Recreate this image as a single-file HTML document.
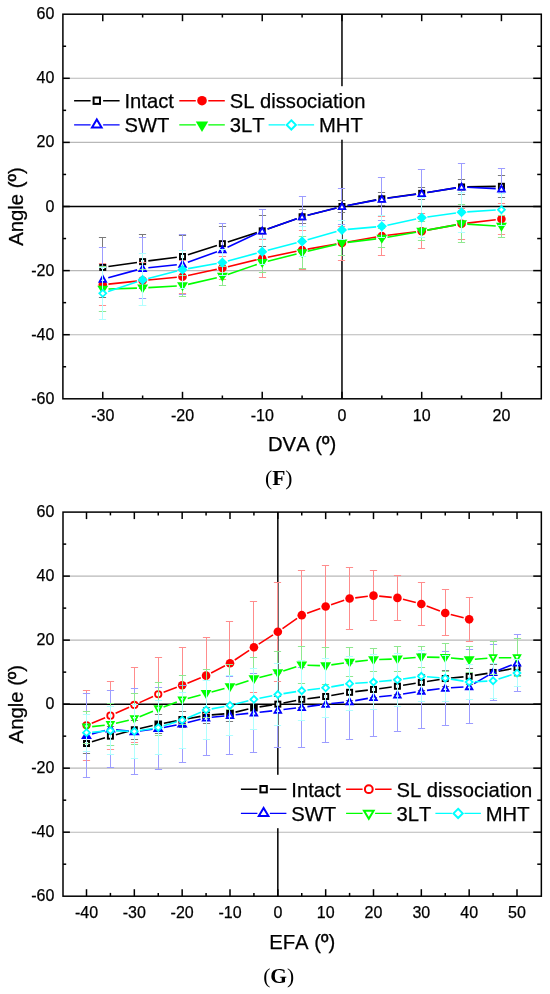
<!DOCTYPE html>
<html><head><meta charset="utf-8"><title>Angle vs DVA / EFA</title>
<style>html,body{margin:0;padding:0;background:#fff;width:550px;height:994px;overflow:hidden}svg{display:block}text{font-kerning:none;stroke:#000;stroke-width:0.25px}tspan.o{stroke-width:0.5px}text.cap{stroke-width:0}</style>
</head><body><svg width="550" height="994" viewBox="0 0 550 994"><line x1="62.9" y1="334.7" x2="541.3" y2="334.7" stroke="#b8b8b8" stroke-width="1.1"/><line x1="62.9" y1="270.6" x2="541.3" y2="270.6" stroke="#b8b8b8" stroke-width="1.1"/><line x1="62.9" y1="142.4" x2="541.3" y2="142.4" stroke="#b8b8b8" stroke-width="1.1"/><line x1="62.9" y1="78.3" x2="541.3" y2="78.3" stroke="#b8b8b8" stroke-width="1.1"/><line x1="62.9" y1="206.5" x2="541.3" y2="206.5" stroke="#000" stroke-width="1.5"/><line x1="341.97" y1="14.2" x2="341.97" y2="398.8" stroke="#000" stroke-width="1.5"/><path d="M102.5 237.5V297.5M98.9 237.5H106.1M98.9 297.5H106.1M142.5 234.5V288.5M138.9 234.5H146.1M138.9 288.5H146.1M182.5 235.5V277.5M178.9 235.5H186.1M178.9 277.5H186.1M222.5 226.5V261.5M218.9 226.5H226.1M218.9 261.5H226.1M262.5 215.5V246.5M258.9 215.5H266.1M258.9 246.5H266.1M302.5 209.5V223.5M298.9 209.5H306.1M298.9 223.5H306.1M341.5 200.5V212.5M337.9 200.5H345.1M337.9 212.5H345.1M381.5 192.5V205.5M377.9 192.5H385.1M377.9 205.5H385.1M421.5 187.5V199.5M417.9 187.5H425.1M417.9 199.5H425.1M461.5 179.5V194.5M457.9 179.5H465.1M457.9 194.5H465.1M501.5 175.5V197.5M497.9 175.5H505.1M497.9 197.5H505.1" stroke="#7a7a7a" stroke-width="1" fill="none"/><path d="M108.41 266.58L136.99 262.44M148.29 260.9L176.85 257.23M187.93 254.75L216.94 245.42M227.79 241.93L256.81 232.6M267.61 228.96L296.73 218.66M307.62 215.34L336.45 207.92M347.56 205.42L376.24 199.89M387.48 198.04L416.05 194.13M427.33 192.45L455.94 187.85M467.27 186.86L495.73 186.4" fill="none" stroke="#000000" stroke-width="1.6" stroke-linecap="butt"/><rect x="100.22" y="264.84" width="5.1" height="5.1" fill="#fff" stroke="#000000" stroke-width="1.9"/><rect x="140.08" y="259.08" width="5.1" height="5.1" fill="#fff" stroke="#000000" stroke-width="1.9"/><rect x="179.95" y="253.95" width="5.1" height="5.1" fill="#fff" stroke="#000000" stroke-width="1.9"/><rect x="219.82" y="241.13" width="5.1" height="5.1" fill="#fff" stroke="#000000" stroke-width="1.9"/><rect x="259.68" y="228.31" width="5.1" height="5.1" fill="#fff" stroke="#000000" stroke-width="1.9"/><rect x="299.55" y="214.21" width="5.1" height="5.1" fill="#fff" stroke="#000000" stroke-width="1.9"/><rect x="339.42" y="203.95" width="5.1" height="5.1" fill="#fff" stroke="#000000" stroke-width="1.9"/><rect x="379.28" y="196.26" width="5.1" height="5.1" fill="#fff" stroke="#000000" stroke-width="1.9"/><rect x="419.15" y="190.81" width="5.1" height="5.1" fill="#fff" stroke="#000000" stroke-width="1.9"/><rect x="459.02" y="184.4" width="5.1" height="5.1" fill="#fff" stroke="#000000" stroke-width="1.9"/><rect x="498.88" y="183.76" width="5.1" height="5.1" fill="#fff" stroke="#000000" stroke-width="1.9"/><path d="M102.5 263.5V305.5M98.9 263.5H106.1M98.9 305.5H106.1M142.5 262.5V298.5M138.9 262.5H146.1M138.9 298.5H146.1M182.5 260.5V293.5M178.9 260.5H186.1M178.9 293.5H186.1M222.5 256.5V279.5M218.9 256.5H226.1M218.9 279.5H226.1M262.5 239.5V277.5M258.9 239.5H266.1M258.9 277.5H266.1M302.5 230.5V269.5M298.9 230.5H306.1M298.9 269.5H306.1M341.5 226.5V260.5M337.9 226.5H345.1M337.9 260.5H345.1M381.5 216.5V255.5M377.9 216.5H385.1M377.9 255.5H385.1M421.5 213.5V248.5M417.9 213.5H425.1M417.9 248.5H425.1M461.5 208.5V239.5M457.9 208.5H465.1M457.9 239.5H465.1M501.5 203.5V234.5M497.9 203.5H505.1M497.9 234.5H505.1" stroke="#ff8c8c" stroke-width="1" fill="none"/><path d="M108.44 284.11L136.96 281.13M148.31 279.99L176.83 277.24M188.07 275.48L216.8 269.25M227.91 266.7L256.69 259.76M267.81 257.25L296.52 251.25M307.71 249.1L336.35 244.03M347.58 242.04L376.22 236.98M387.49 235.3L416.04 231.86M427.3 230.14L455.96 224.84M467.23 223.12L495.77 219.68" fill="none" stroke="#ff0000" stroke-width="1.6" stroke-linecap="butt"/><circle cx="102.77" cy="284.7" r="4.3" fill="#ff0000"/><circle cx="142.63" cy="280.54" r="4.3" fill="#ff0000"/><circle cx="182.5" cy="276.69" r="4.3" fill="#ff0000"/><circle cx="222.37" cy="268.04" r="4.3" fill="#ff0000"/><circle cx="262.23" cy="258.42" r="4.3" fill="#ff0000"/><circle cx="302.1" cy="250.09" r="4.3" fill="#ff0000"/><circle cx="341.97" cy="243.04" r="4.3" fill="#ff0000"/><circle cx="381.83" cy="235.99" r="4.3" fill="#ff0000"/><circle cx="421.7" cy="231.18" r="4.3" fill="#ff0000"/><circle cx="461.57" cy="223.81" r="4.3" fill="#ff0000"/><circle cx="501.43" cy="219" r="4.3" fill="#ff0000"/><path d="M102.5 247.5V311.5M98.9 247.5H106.1M98.9 311.5H106.1M142.5 237.5V298.5M138.9 237.5H146.1M138.9 298.5H146.1M182.5 234.5V294.5M178.9 234.5H186.1M178.9 294.5H186.1M222.5 223.5V276.5M218.9 223.5H226.1M218.9 276.5H226.1M262.5 209.5V252.5M258.9 209.5H266.1M258.9 252.5H266.1M302.5 196.5V236.5M298.9 196.5H306.1M298.9 236.5H306.1M341.5 188.5V224.5M337.9 188.5H345.1M337.9 224.5H345.1M381.5 177.5V220.5M377.9 177.5H385.1M377.9 220.5H385.1M421.5 169.5V216.5M417.9 169.5H425.1M417.9 216.5H425.1M461.5 163.5V210.5M457.9 163.5H465.1M457.9 210.5H465.1M501.5 168.5V209.5M497.9 168.5H505.1M497.9 209.5H505.1" stroke="#9c9cff" stroke-width="1" fill="none"/><path d="M108.26 277.75L137.14 269.86M148.3 267.76L176.83 264.78M187.86 262.25L217.01 251.71M227.52 247.32L257.08 233.3M267.61 228.96L296.73 218.66M307.62 215.34L336.45 207.92M347.57 205.46L376.23 200.16M387.47 198.31L416.06 194.18M427.33 192.45L455.94 187.85M467.26 187.22L495.74 188.6" fill="none" stroke="#0000ff" stroke-width="1.6" stroke-linecap="butt"/><polygon points="99.47,281.95 106.07,281.95 102.77,275.95" fill="#fff" stroke="#0000ff" stroke-width="1.8" stroke-linejoin="miter" stroke-miterlimit="10"/><polygon points="139.33,271.06 145.93,271.06 142.63,265.06" fill="#fff" stroke="#0000ff" stroke-width="1.8" stroke-linejoin="miter" stroke-miterlimit="10"/><polygon points="179.2,266.89 185.8,266.89 182.5,260.89" fill="#fff" stroke="#0000ff" stroke-width="1.8" stroke-linejoin="miter" stroke-miterlimit="10"/><polygon points="219.07,252.47 225.67,252.47 222.37,246.47" fill="#fff" stroke="#0000ff" stroke-width="1.8" stroke-linejoin="miter" stroke-miterlimit="10"/><polygon points="258.93,233.56 265.53,233.56 262.23,227.56" fill="#fff" stroke="#0000ff" stroke-width="1.8" stroke-linejoin="miter" stroke-miterlimit="10"/><polygon points="298.8,219.46 305.4,219.46 302.1,213.46" fill="#fff" stroke="#0000ff" stroke-width="1.8" stroke-linejoin="miter" stroke-miterlimit="10"/><polygon points="338.67,209.2 345.27,209.2 341.97,203.2" fill="#fff" stroke="#0000ff" stroke-width="1.8" stroke-linejoin="miter" stroke-miterlimit="10"/><polygon points="378.53,201.83 385.13,201.83 381.83,195.83" fill="#fff" stroke="#0000ff" stroke-width="1.8" stroke-linejoin="miter" stroke-miterlimit="10"/><polygon points="418.4,196.06 425,196.06 421.7,190.06" fill="#fff" stroke="#0000ff" stroke-width="1.8" stroke-linejoin="miter" stroke-miterlimit="10"/><polygon points="458.27,189.65 464.87,189.65 461.57,183.65" fill="#fff" stroke="#0000ff" stroke-width="1.8" stroke-linejoin="miter" stroke-miterlimit="10"/><polygon points="498.13,191.57 504.73,191.57 501.43,185.57" fill="#fff" stroke="#0000ff" stroke-width="1.8" stroke-linejoin="miter" stroke-miterlimit="10"/><path d="M102.5 266.5V311.5M98.9 266.5H106.1M98.9 311.5H106.1M142.5 269.5V305.5M138.9 269.5H146.1M138.9 305.5H146.1M182.5 275.5V296.5M178.9 275.5H186.1M178.9 296.5H186.1M222.5 266.5V285.5M218.9 266.5H226.1M218.9 285.5H226.1M262.5 252.5V272.5M258.9 252.5H266.1M258.9 272.5H266.1M302.5 236.5V268.5M298.9 236.5H306.1M298.9 268.5H306.1M341.5 230.5V255.5M337.9 230.5H345.1M337.9 255.5H345.1M381.5 228.5V247.5M377.9 228.5H385.1M377.9 247.5H385.1M421.5 221.5V240.5M417.9 221.5H425.1M417.9 240.5H425.1M461.5 204.5V242.5M457.9 204.5H465.1M457.9 242.5H465.1M501.5 215.5V237.5M497.9 215.5H505.1M497.9 237.5H505.1" stroke="#8fe88f" stroke-width="1" fill="none"/><path d="M108.46 289.01L136.94 288.09M148.32 287.59L176.81 285.98M188.05 284.37L216.82 277.66M227.75 274.51L256.85 264.45M267.76 261.21L296.57 254.03M307.64 251.32L336.43 244.37M347.63 242.35L376.17 238.91M387.45 237.24L416.09 232.17M427.3 230.14L455.96 224.84M467.25 224.17L495.75 226.01" fill="none" stroke="#00ff00" stroke-width="1.6" stroke-linecap="butt"/><polygon points="97.32,285.69 108.22,285.69 102.77,294.69" fill="#00ff00"/><polygon points="137.18,284.41 148.08,284.41 142.63,293.41" fill="#00ff00"/><polygon points="177.05,282.16 187.95,282.16 182.5,291.16" fill="#00ff00"/><polygon points="216.92,272.87 227.82,272.87 222.37,281.87" fill="#00ff00"/><polygon points="256.78,259.09 267.68,259.09 262.23,268.09" fill="#00ff00"/><polygon points="296.65,249.15 307.55,249.15 302.1,258.15" fill="#00ff00"/><polygon points="336.52,239.54 347.42,239.54 341.97,248.54" fill="#00ff00"/><polygon points="376.38,234.73 387.28,234.73 381.83,243.73" fill="#00ff00"/><polygon points="416.25,227.68 427.15,227.68 421.7,236.68" fill="#00ff00"/><polygon points="456.12,220.31 467.02,220.31 461.57,229.31" fill="#00ff00"/><polygon points="495.98,222.87 506.88,222.87 501.43,231.87" fill="#00ff00"/><path d="M102.5 267.5V319.5M98.9 267.5H106.1M98.9 319.5H106.1M142.5 253.5V305.5M138.9 253.5H146.1M138.9 305.5H146.1M182.5 250.5V288.5M178.9 250.5H186.1M178.9 288.5H186.1M222.5 249.5V275.5M218.9 249.5H226.1M218.9 275.5H226.1M262.5 238.5V264.5M258.9 238.5H266.1M258.9 264.5H266.1M302.5 226.5V256.5M298.9 226.5H306.1M298.9 256.5H306.1M341.5 220.5V239.5M337.9 220.5H345.1M337.9 239.5H345.1M381.5 215.5V237.5M377.9 215.5H385.1M377.9 237.5H385.1M421.5 197.5V237.5M417.9 197.5H425.1M417.9 237.5H425.1M461.5 192.5V232.5M457.9 192.5H465.1M457.9 232.5H465.1M501.5 193.5V225.5M497.9 193.5H505.1M497.9 225.5H505.1" stroke="#b0ffff" stroke-width="1" fill="none"/><path d="M108.17 291.53L137.23 281.72M148.15 278.47L176.98 271.06M188.11 268.65L216.75 263.58M227.86 261.08L256.74 253.19M267.75 250.27L296.58 242.85M307.58 239.85L336.49 231.48M347.64 229.39L376.16 226.87M387.4 225.16L416.13 218.93M427.35 216.95L455.92 213.04M467.25 211.9L495.75 210.07" fill="none" stroke="#00ffff" stroke-width="1.6" stroke-linecap="butt"/><polygon points="102.77,289.91 106.22,293.36 102.77,296.81 99.32,293.36" fill="#fff" stroke="#00ffff" stroke-width="1.8" stroke-miterlimit="10"/><polygon points="142.63,274.79 147.73,279.89 142.63,284.99 137.53,279.89" fill="#00ffff"/><polygon points="182.5,264.54 187.6,269.64 182.5,274.74 177.4,269.64" fill="#00ffff"/><polygon points="222.37,257.49 227.47,262.59 222.37,267.69 217.27,262.59" fill="#00ffff"/><polygon points="262.23,246.59 267.33,251.69 262.23,256.79 257.13,251.69" fill="#00ffff"/><polygon points="302.1,236.33 307.2,241.43 302.1,246.53 297,241.43" fill="#00ffff"/><polygon points="341.97,224.8 347.07,229.9 341.97,235 336.87,229.9" fill="#00ffff"/><polygon points="381.83,221.27 386.93,226.37 381.83,231.47 376.73,226.37" fill="#00ffff"/><polygon points="421.7,212.62 426.8,217.72 421.7,222.82 416.6,217.72" fill="#00ffff"/><polygon points="461.57,207.17 466.67,212.27 461.57,217.37 456.47,212.27" fill="#00ffff"/><polygon points="501.43,206.26 504.88,209.71 501.43,213.16 497.98,209.71" fill="#fff" stroke="#00ffff" stroke-width="1.8" stroke-miterlimit="10"/><rect x="66" y="86.2" width="300" height="53.5" fill="#fff"/><path d="M74.1 100.7H90.6M103.1 100.7H119.6" stroke="#000000" stroke-width="1.4"/><rect x="93.6" y="97.5" width="6.4" height="6.4" fill="#fff" stroke="#000000" stroke-width="2"/><path d="M179.3 100.7H195.8M208.3 100.7H224.8" stroke="#ff0000" stroke-width="1.4"/><circle cx="202" cy="100.7" r="4.8" fill="#ff0000"/><path d="M74.1 124.9H90.6M103.1 124.9H119.6" stroke="#0000ff" stroke-width="1.4"/><polygon points="92,127.5 101.6,127.5 96.8,119.5" fill="#fff" stroke="#0000ff" stroke-width="2" stroke-miterlimit="10"/><path d="M179.3 124.9H195.8M208.3 124.9H224.8" stroke="#00ff00" stroke-width="1.4"/><polygon points="195.8,121.5 208.2,121.5 202,132.1" fill="#00ff00"/><path d="M268.6 124.9H285.1M297.6 124.9H314.1" stroke="#00ffff" stroke-width="1.4"/><polygon points="291.3,120.3 295.9,124.9 291.3,129.5 286.7,124.9" fill="#fff" stroke="#00ffff" stroke-width="2" stroke-miterlimit="10"/><g font-family="'Liberation Sans', Arial, sans-serif" font-size="20.2" fill="#000"><text x="124.5" y="107.5">Intact</text><text x="229.7" y="107.5">SL dissociation</text><text x="124.5" y="131.7">SWT</text><text x="229.7" y="131.7">3LT</text><text x="319" y="131.7">MHT</text></g><g stroke="#000" stroke-width="1.5" fill="none"><line x1="102.77" y1="398.8" x2="102.77" y2="391.8"/><line x1="102.77" y1="14.2" x2="102.77" y2="21.2"/><line x1="182.5" y1="398.8" x2="182.5" y2="391.8"/><line x1="182.5" y1="14.2" x2="182.5" y2="21.2"/><line x1="262.23" y1="398.8" x2="262.23" y2="391.8"/><line x1="262.23" y1="14.2" x2="262.23" y2="21.2"/><line x1="341.97" y1="398.8" x2="341.97" y2="391.8"/><line x1="341.97" y1="14.2" x2="341.97" y2="21.2"/><line x1="421.7" y1="398.8" x2="421.7" y2="391.8"/><line x1="421.7" y1="14.2" x2="421.7" y2="21.2"/><line x1="501.43" y1="398.8" x2="501.43" y2="391.8"/><line x1="501.43" y1="14.2" x2="501.43" y2="21.2"/><line x1="142.63" y1="398.8" x2="142.63" y2="395.5"/><line x1="142.63" y1="14.2" x2="142.63" y2="17.5"/><line x1="222.37" y1="398.8" x2="222.37" y2="395.5"/><line x1="222.37" y1="14.2" x2="222.37" y2="17.5"/><line x1="302.1" y1="398.8" x2="302.1" y2="395.5"/><line x1="302.1" y1="14.2" x2="302.1" y2="17.5"/><line x1="381.83" y1="398.8" x2="381.83" y2="395.5"/><line x1="381.83" y1="14.2" x2="381.83" y2="17.5"/><line x1="461.57" y1="398.8" x2="461.57" y2="395.5"/><line x1="461.57" y1="14.2" x2="461.57" y2="17.5"/><line x1="62.9" y1="334.7" x2="69.8" y2="334.7"/><line x1="541.3" y1="334.7" x2="533.2" y2="334.7"/><line x1="62.9" y1="270.6" x2="69.8" y2="270.6"/><line x1="541.3" y1="270.6" x2="533.2" y2="270.6"/><line x1="62.9" y1="206.5" x2="69.8" y2="206.5"/><line x1="541.3" y1="206.5" x2="533.2" y2="206.5"/><line x1="62.9" y1="142.4" x2="69.8" y2="142.4"/><line x1="541.3" y1="142.4" x2="533.2" y2="142.4"/><line x1="62.9" y1="78.3" x2="69.8" y2="78.3"/><line x1="541.3" y1="78.3" x2="533.2" y2="78.3"/><line x1="62.9" y1="366.75" x2="66.1" y2="366.75"/><line x1="541.3" y1="366.75" x2="537.2" y2="366.75"/><line x1="62.9" y1="302.65" x2="66.1" y2="302.65"/><line x1="541.3" y1="302.65" x2="537.2" y2="302.65"/><line x1="62.9" y1="238.55" x2="66.1" y2="238.55"/><line x1="541.3" y1="238.55" x2="537.2" y2="238.55"/><line x1="62.9" y1="174.45" x2="66.1" y2="174.45"/><line x1="541.3" y1="174.45" x2="537.2" y2="174.45"/><line x1="62.9" y1="110.35" x2="66.1" y2="110.35"/><line x1="541.3" y1="110.35" x2="537.2" y2="110.35"/><line x1="62.9" y1="46.25" x2="66.1" y2="46.25"/><line x1="541.3" y1="46.25" x2="537.2" y2="46.25"/><rect x="62.9" y="14.2" width="478.4" height="384.6" fill="none"/></g><g font-family="'Liberation Sans', Arial, sans-serif" font-size="16" fill="#000"><text x="54.3" y="403.8" text-anchor="end">-60</text><text x="54.3" y="339.7" text-anchor="end">-40</text><text x="54.3" y="275.6" text-anchor="end">-20</text><text x="54.3" y="211.5" text-anchor="end">0</text><text x="54.3" y="147.4" text-anchor="end">20</text><text x="54.3" y="83.3" text-anchor="end">40</text><text x="54.3" y="19.2" text-anchor="end">60</text><text x="102.77" y="420.7" text-anchor="middle">-30</text><text x="182.5" y="420.7" text-anchor="middle">-20</text><text x="262.23" y="420.7" text-anchor="middle">-10</text><text x="341.97" y="420.7" text-anchor="middle">0</text><text x="421.7" y="420.7" text-anchor="middle">10</text><text x="501.43" y="420.7" text-anchor="middle">20</text></g><text x="22.6" y="206.5" transform="rotate(-90 22.6 206.5)" text-anchor="middle" font-family="'Liberation Sans', Arial, sans-serif" font-size="20.3">Angle (<tspan class="o">º</tspan>)</text><text x="302.1" y="451.3" text-anchor="middle" font-family="'Liberation Sans', Arial, sans-serif" font-size="20.3">DVA (<tspan class="o">º</tspan>)</text><text class="cap" x="278.7" y="0" transform="translate(0 485.4)" text-anchor="middle" font-family="'Liberation Serif', 'Times New Roman', serif" font-size="21.5">(<tspan font-weight="bold">F</tspan>)</text><line x1="63" y1="832.18" x2="541.35" y2="832.18" stroke="#b8b8b8" stroke-width="1.1"/><line x1="63" y1="768.17" x2="541.35" y2="768.17" stroke="#b8b8b8" stroke-width="1.1"/><line x1="63" y1="640.13" x2="541.35" y2="640.13" stroke="#b8b8b8" stroke-width="1.1"/><line x1="63" y1="576.12" x2="541.35" y2="576.12" stroke="#b8b8b8" stroke-width="1.1"/><line x1="63" y1="704.15" x2="541.35" y2="704.15" stroke="#000" stroke-width="1.5"/><line x1="277.83" y1="512.1" x2="277.83" y2="896.2" stroke="#000" stroke-width="1.5"/><path d="M86.5 733.5V753.5M82.9 733.5H90.1M82.9 753.5H90.1M110.5 726.5V745.5M106.9 726.5H114.1M106.9 745.5H114.1M134.5 720.5V739.5M130.9 720.5H138.1M130.9 739.5H138.1M158.5 714.5V733.5M154.9 714.5H162.1M154.9 733.5H162.1M182.5 711.5V727.5M178.9 711.5H186.1M178.9 727.5H186.1M206.5 707.5V723.5M202.9 707.5H210.1M202.9 723.5H210.1M229.5 705.5V721.5M225.9 705.5H233.1M225.9 721.5H233.1M253.5 699.5V715.5M249.9 699.5H257.1M249.9 715.5H257.1M277.5 696.5V712.5M273.9 696.5H281.1M273.9 712.5H281.1M301.5 691.5V707.5M297.9 691.5H305.1M297.9 707.5H305.1M325.5 688.5V704.5M321.9 688.5H329.1M321.9 704.5H329.1M349.5 684.5V700.5M345.9 684.5H353.1M345.9 700.5H353.1M373.5 681.5V697.5M369.9 681.5H377.1M369.9 697.5H377.1M397.5 678.5V694.5M393.9 678.5H401.1M393.9 694.5H401.1M421.5 674.5V690.5M417.9 674.5H425.1M417.9 690.5H425.1M445.5 670.5V686.5M441.9 670.5H449.1M441.9 686.5H449.1M469.5 668.5V684.5M465.9 668.5H473.1M465.9 684.5H473.1M493.5 664.5V680.5M489.9 664.5H497.1M489.9 680.5H497.1M517.5 659.5V675.5M513.9 659.5H521.1M513.9 675.5H521.1" stroke="#7a7a7a" stroke-width="1" fill="none"/><path d="M91.94 741.84L104.97 737.84M115.92 734.68L128.82 731.23M139.89 728.49L152.69 725.58M163.85 723.27L176.56 720.88M187.77 718.78L200.48 716.4M211.76 714.9L224.32 713.89M235.54 712.1L248.37 709.01M259.56 706.84L272.19 704.98M283.42 703.03L296.16 700.47M307.41 698.67L320.01 697.15M331.28 695.49L343.97 693.28M355.24 691.63L367.84 690.11M379.15 688.67L391.77 686.98M403.05 685.32L415.71 683.29M426.96 681.48L439.62 679.45M450.93 678.01L463.49 676.83M474.8 675.4L487.46 673.37M498.67 671.34L511.41 668.78" fill="none" stroke="#000000" stroke-width="1.6" stroke-linecap="butt"/><rect x="83.95" y="740.97" width="5.1" height="5.1" fill="#fff" stroke="#000000" stroke-width="1.9"/><rect x="107.86" y="733.61" width="5.1" height="5.1" fill="#fff" stroke="#000000" stroke-width="1.9"/><rect x="131.78" y="727.21" width="5.1" height="5.1" fill="#fff" stroke="#000000" stroke-width="1.9"/><rect x="154.45" y="720.52" width="7.6" height="7.6" fill="#000000"/><rect x="178.36" y="716.03" width="7.6" height="7.6" fill="#000000"/><rect x="202.28" y="711.55" width="7.6" height="7.6" fill="#000000"/><rect x="226.2" y="709.63" width="7.6" height="7.6" fill="#000000"/><rect x="250.12" y="703.87" width="7.6" height="7.6" fill="#000000"/><rect x="275.28" y="701.6" width="5.1" height="5.1" fill="#fff" stroke="#000000" stroke-width="1.9"/><rect x="299.2" y="696.8" width="5.1" height="5.1" fill="#fff" stroke="#000000" stroke-width="1.9"/><rect x="323.12" y="693.92" width="5.1" height="5.1" fill="#fff" stroke="#000000" stroke-width="1.9"/><rect x="347.03" y="689.76" width="5.1" height="5.1" fill="#fff" stroke="#000000" stroke-width="1.9"/><rect x="370.95" y="686.88" width="5.1" height="5.1" fill="#fff" stroke="#000000" stroke-width="1.9"/><rect x="394.87" y="683.68" width="5.1" height="5.1" fill="#fff" stroke="#000000" stroke-width="1.9"/><rect x="418.78" y="679.83" width="5.1" height="5.1" fill="#fff" stroke="#000000" stroke-width="1.9"/><rect x="442.7" y="675.99" width="5.1" height="5.1" fill="#fff" stroke="#000000" stroke-width="1.9"/><rect x="466.62" y="673.75" width="5.1" height="5.1" fill="#fff" stroke="#000000" stroke-width="1.9"/><rect x="490.54" y="669.91" width="5.1" height="5.1" fill="#fff" stroke="#000000" stroke-width="1.9"/><rect x="514.45" y="665.11" width="5.1" height="5.1" fill="#fff" stroke="#000000" stroke-width="1.9"/><path d="M86.5 690.5V760.5M82.9 690.5H90.1M82.9 760.5H90.1M110.5 681.5V749.5M106.9 681.5H114.1M106.9 749.5H114.1M134.5 667.5V742.5M130.9 667.5H138.1M130.9 742.5H138.1M158.5 657.5V731.5M154.9 657.5H162.1M154.9 731.5H162.1M182.5 647.5V722.5M178.9 647.5H186.1M178.9 722.5H186.1M206.5 637.5V713.5M202.9 637.5H210.1M202.9 713.5H210.1M229.5 621.5V704.5M225.9 621.5H233.1M225.9 704.5H233.1M253.5 601.5V692.5M249.9 601.5H257.1M249.9 692.5H257.1M277.5 582.5V681.5M273.9 582.5H281.1M273.9 681.5H281.1M301.5 570.5V660.5M297.9 570.5H305.1M297.9 660.5H305.1M325.5 565.5V647.5M321.9 565.5H329.1M321.9 647.5H329.1M349.5 567.5V629.5M345.9 567.5H353.1M345.9 629.5H353.1M373.5 570.5V620.5M369.9 570.5H377.1M369.9 620.5H377.1M397.5 575.5V620.5M393.9 575.5H401.1M393.9 620.5H401.1M421.5 582.5V625.5M417.9 582.5H425.1M417.9 625.5H425.1M445.5 589.5V635.5M441.9 589.5H449.1M441.9 635.5H449.1M469.5 597.5V641.5M465.9 597.5H473.1M465.9 641.5H473.1" stroke="#ff8c8c" stroke-width="1" fill="none"/><path d="M91.79 723.15L105.12 717.8M115.62 713.34L129.13 707.28M139.53 702.62L153.05 696.56M163.59 692.23L176.83 687.27M187.45 683.14L200.79 677.79M211.14 673.03L224.95 665.82M234.74 660.01L249.18 650.35M258.71 644.09L273.04 634.89M282.51 628.56L297.07 618.42M307.11 613.23L320.31 608.46M331.07 604.72L344.18 600.33M355.24 597.84L367.84 596.32M379.18 596.17L391.74 597.35M402.94 599.29L415.81 602.56M426.67 605.96L439.91 610.93M450.76 614.4L463.66 617.85" fill="none" stroke="#ff0000" stroke-width="1.6" stroke-linecap="butt"/><circle cx="86.5" cy="725.28" r="3.2" fill="#fff" stroke="#ff0000" stroke-width="1.8"/><circle cx="110.41" cy="715.67" r="3.2" fill="#fff" stroke="#ff0000" stroke-width="1.8"/><circle cx="134.33" cy="704.95" r="3.2" fill="#fff" stroke="#ff0000" stroke-width="1.8"/><circle cx="158.25" cy="694.23" r="3.2" fill="#fff" stroke="#ff0000" stroke-width="1.8"/><circle cx="182.16" cy="685.27" r="4.3" fill="#ff0000"/><circle cx="206.08" cy="675.66" r="4.3" fill="#ff0000"/><circle cx="230" cy="663.18" r="4.3" fill="#ff0000"/><circle cx="253.92" cy="647.18" r="4.3" fill="#ff0000"/><circle cx="277.83" cy="631.81" r="4.3" fill="#ff0000"/><circle cx="301.75" cy="615.17" r="4.3" fill="#ff0000"/><circle cx="325.67" cy="606.52" r="4.3" fill="#ff0000"/><circle cx="349.58" cy="598.52" r="4.3" fill="#ff0000"/><circle cx="373.5" cy="595.64" r="4.3" fill="#ff0000"/><circle cx="397.42" cy="597.88" r="4.3" fill="#ff0000"/><circle cx="421.33" cy="603.96" r="4.3" fill="#ff0000"/><circle cx="445.25" cy="612.93" r="4.3" fill="#ff0000"/><circle cx="469.17" cy="619.33" r="4.3" fill="#ff0000"/><path d="M86.5 693.5V777.5M82.9 693.5H90.1M82.9 777.5H90.1M110.5 690.5V767.5M106.9 690.5H114.1M106.9 767.5H114.1M134.5 688.5V774.5M130.9 688.5H138.1M130.9 774.5H138.1M158.5 687.5V769.5M154.9 687.5H162.1M154.9 769.5H162.1M182.5 685.5V762.5M178.9 685.5H186.1M178.9 762.5H186.1M206.5 680.5V755.5M202.9 680.5H210.1M202.9 755.5H210.1M229.5 676.5V754.5M225.9 676.5H233.1M225.9 754.5H233.1M253.5 673.5V752.5M249.9 673.5H257.1M249.9 752.5H257.1M277.5 673.5V747.5M273.9 673.5H281.1M273.9 747.5H281.1M301.5 667.5V747.5M297.9 667.5H305.1M297.9 747.5H305.1M325.5 665.5V742.5M321.9 665.5H329.1M321.9 742.5H329.1M349.5 663.5V739.5M345.9 663.5H353.1M345.9 739.5H353.1M373.5 658.5V736.5M369.9 658.5H377.1M369.9 736.5H377.1M397.5 657.5V731.5M393.9 657.5H401.1M393.9 731.5H401.1M421.5 653.5V728.5M417.9 653.5H425.1M417.9 728.5H425.1M445.5 651.5V725.5M441.9 651.5H449.1M441.9 725.5H449.1M469.5 649.5V723.5M465.9 649.5H473.1M465.9 723.5H473.1M493.5 644.5V700.5M489.9 644.5H497.1M489.9 700.5H497.1M517.5 634.5V691.5M513.9 634.5H521.1M513.9 691.5H521.1" stroke="#9c9cff" stroke-width="1" fill="none"/><path d="M92 734.04L104.91 730.59M116.08 729.72L128.66 731.07M139.98 730.92L152.6 729.23M163.85 727.43L176.56 725.04M187.69 722.59L200.56 719.32M211.75 717.31L224.33 715.96M235.67 714.75L248.25 713.4M259.58 712.19L272.17 710.84M283.49 709.55L296.09 708.03M307.4 706.59L320.02 704.91M331.33 703.54L343.92 702.2M355.2 700.61L367.89 698.41M379.17 696.82L391.75 695.47M403.05 693.96L415.71 691.93M426.99 690.34L439.59 688.83M450.94 687.77L463.48 686.93M474.08 683.65L488.17 675.35M498.38 670.34L511.71 664.98" fill="none" stroke="#0000ff" stroke-width="1.6" stroke-linecap="butt"/><polygon points="81.05,739.02 91.95,739.02 86.5,730.02" fill="#0000ff"/><polygon points="104.96,732.62 115.86,732.62 110.41,723.62" fill="#0000ff"/><polygon points="128.88,735.18 139.78,735.18 134.33,726.18" fill="#0000ff"/><polygon points="152.8,731.98 163.7,731.98 158.25,722.98" fill="#0000ff"/><polygon points="176.72,727.5 187.61,727.5 182.16,718.5" fill="#0000ff"/><polygon points="202.78,720.61 209.38,720.61 206.08,714.61" fill="#fff" stroke="#0000ff" stroke-width="1.8" stroke-linejoin="miter" stroke-miterlimit="10"/><polygon points="226.7,718.05 233.3,718.05 230,712.05" fill="#fff" stroke="#0000ff" stroke-width="1.8" stroke-linejoin="miter" stroke-miterlimit="10"/><polygon points="250.62,715.49 257.22,715.49 253.92,709.49" fill="#fff" stroke="#0000ff" stroke-width="1.8" stroke-linejoin="miter" stroke-miterlimit="10"/><polygon points="274.53,712.93 281.13,712.93 277.83,706.93" fill="#fff" stroke="#0000ff" stroke-width="1.8" stroke-linejoin="miter" stroke-miterlimit="10"/><polygon points="298.45,710.05 305.05,710.05 301.75,704.05" fill="#fff" stroke="#0000ff" stroke-width="1.8" stroke-linejoin="miter" stroke-miterlimit="10"/><polygon points="322.37,706.85 328.97,706.85 325.67,700.85" fill="#fff" stroke="#0000ff" stroke-width="1.8" stroke-linejoin="miter" stroke-miterlimit="10"/><polygon points="346.28,704.29 352.88,704.29 349.58,698.29" fill="#fff" stroke="#0000ff" stroke-width="1.8" stroke-linejoin="miter" stroke-miterlimit="10"/><polygon points="370.2,700.13 376.8,700.13 373.5,694.13" fill="#fff" stroke="#0000ff" stroke-width="1.8" stroke-linejoin="miter" stroke-miterlimit="10"/><polygon points="394.12,697.57 400.72,697.57 397.42,691.57" fill="#fff" stroke="#0000ff" stroke-width="1.8" stroke-linejoin="miter" stroke-miterlimit="10"/><polygon points="418.03,693.73 424.63,693.73 421.33,687.73" fill="#fff" stroke="#0000ff" stroke-width="1.8" stroke-linejoin="miter" stroke-miterlimit="10"/><polygon points="441.95,690.85 448.55,690.85 445.25,684.85" fill="#fff" stroke="#0000ff" stroke-width="1.8" stroke-linejoin="miter" stroke-miterlimit="10"/><polygon points="465.87,689.25 472.47,689.25 469.17,683.25" fill="#fff" stroke="#0000ff" stroke-width="1.8" stroke-linejoin="miter" stroke-miterlimit="10"/><polygon points="489.79,675.16 496.39,675.16 493.09,669.16" fill="#fff" stroke="#0000ff" stroke-width="1.8" stroke-linejoin="miter" stroke-miterlimit="10"/><polygon points="513.7,665.56 520.3,665.56 517,659.56" fill="#fff" stroke="#0000ff" stroke-width="1.8" stroke-linejoin="miter" stroke-miterlimit="10"/><path d="M86.5 711.5V743.5M82.9 711.5H90.1M82.9 743.5H90.1M110.5 703.5V745.5M106.9 703.5H114.1M106.9 745.5H114.1M134.5 693.5V744.5M130.9 693.5H138.1M130.9 744.5H138.1M158.5 682.5V735.5M154.9 682.5H162.1M154.9 735.5H162.1M182.5 675.5V724.5M178.9 675.5H186.1M178.9 724.5H186.1M206.5 669.5V717.5M202.9 669.5H210.1M202.9 717.5H210.1M229.5 664.5V709.5M225.9 664.5H233.1M225.9 709.5H233.1M253.5 657.5V700.5M249.9 657.5H257.1M249.9 700.5H257.1M277.5 651.5V694.5M273.9 651.5H281.1M273.9 694.5H281.1M301.5 646.5V683.5M297.9 646.5H305.1M297.9 683.5H305.1M325.5 647.5V684.5M321.9 647.5H329.1M321.9 684.5H329.1M349.5 647.5V676.5M345.9 647.5H353.1M345.9 676.5H353.1M373.5 648.5V671.5M369.9 648.5H377.1M369.9 671.5H377.1M397.5 646.5V671.5M393.9 646.5H401.1M393.9 671.5H401.1M421.5 646.5V667.5M417.9 646.5H425.1M417.9 667.5H425.1M445.5 643.5V671.5M441.9 643.5H449.1M441.9 671.5H449.1M469.5 646.5V672.5M465.9 646.5H473.1M465.9 672.5H473.1M493.5 641.5V674.5M489.9 641.5H497.1M489.9 674.5H497.1M517.5 638.5V676.5M513.9 638.5H521.1M513.9 676.5H521.1" stroke="#8fe88f" stroke-width="1" fill="none"/><path d="M92.16 726.59L104.75 725.24M115.96 723.3L128.79 720.21M139.6 716.69L152.98 711.14M163.59 706.95L176.83 701.99M187.67 698.52L200.58 695.06M211.57 692.05L224.51 688.41M235.4 685.06L248.51 680.67M259.44 677.46L272.31 674.19M283.26 671.04L296.32 666.84M307.45 665.25L319.97 665.59M331.31 664.91L343.94 663.05M355.25 661.61L367.83 660.27M379.2 659.51L391.72 659.17M403.1 658.56L415.65 657.55M427.03 657.17L439.55 657.34M450.93 657.95L463.49 659.13M474.85 659.2L487.4 658.19M498.79 657.74L511.3 657.74" fill="none" stroke="#00ff00" stroke-width="1.6" stroke-linecap="butt"/><polygon points="83.2,724.5 89.8,724.5 86.5,730.5" fill="#fff" stroke="#00ff00" stroke-width="1.8" stroke-linejoin="miter" stroke-miterlimit="10"/><polygon points="107.11,721.94 113.71,721.94 110.41,727.94" fill="#fff" stroke="#00ff00" stroke-width="1.8" stroke-linejoin="miter" stroke-miterlimit="10"/><polygon points="131.03,716.17 137.63,716.17 134.33,722.17" fill="#fff" stroke="#00ff00" stroke-width="1.8" stroke-linejoin="miter" stroke-miterlimit="10"/><polygon points="154.95,706.25 161.55,706.25 158.25,712.25" fill="#fff" stroke="#00ff00" stroke-width="1.8" stroke-linejoin="miter" stroke-miterlimit="10"/><polygon points="178.86,697.29 185.47,697.29 182.16,703.29" fill="#fff" stroke="#00ff00" stroke-width="1.8" stroke-linejoin="miter" stroke-miterlimit="10"/><polygon points="200.63,690.09 211.53,690.09 206.08,699.09" fill="#00ff00"/><polygon points="224.55,683.37 235.45,683.37 230,692.37" fill="#00ff00"/><polygon points="248.47,675.36 259.37,675.36 253.92,684.36" fill="#00ff00"/><polygon points="272.38,669.28 283.28,669.28 277.83,678.28" fill="#00ff00"/><polygon points="296.3,661.6 307.2,661.6 301.75,670.6" fill="#00ff00"/><polygon points="320.22,662.24 331.12,662.24 325.67,671.24" fill="#00ff00"/><polygon points="344.13,658.72 355.03,658.72 349.58,667.72" fill="#00ff00"/><polygon points="368.05,656.16 378.95,656.16 373.5,665.16" fill="#00ff00"/><polygon points="391.97,655.52 402.87,655.52 397.42,664.52" fill="#00ff00"/><polygon points="415.88,653.6 426.78,653.6 421.33,662.6" fill="#00ff00"/><polygon points="439.8,653.92 450.7,653.92 445.25,662.92" fill="#00ff00"/><polygon points="463.72,656.16 474.62,656.16 469.17,665.16" fill="#00ff00"/><polygon points="489.79,655.04 496.39,655.04 493.09,661.04" fill="#fff" stroke="#00ff00" stroke-width="1.8" stroke-linejoin="miter" stroke-miterlimit="10"/><polygon points="513.7,655.04 520.3,655.04 517,661.04" fill="#fff" stroke="#00ff00" stroke-width="1.8" stroke-linejoin="miter" stroke-miterlimit="10"/><path d="M86.5 714.5V751.5M82.9 714.5H90.1M82.9 751.5H90.1M110.5 706.5V754.5M106.9 706.5H114.1M106.9 754.5H114.1M134.5 704.5V758.5M130.9 704.5H138.1M130.9 758.5H138.1M158.5 700.5V754.5M154.9 700.5H162.1M154.9 754.5H162.1M182.5 692.5V748.5M178.9 692.5H186.1M178.9 748.5H186.1M206.5 680.5V739.5M202.9 680.5H210.1M202.9 739.5H210.1M229.5 675.5V735.5M225.9 675.5H233.1M225.9 735.5H233.1M253.5 668.5V729.5M249.9 668.5H257.1M249.9 729.5H257.1M277.5 663.5V725.5M273.9 663.5H281.1M273.9 725.5H281.1M301.5 660.5V720.5M297.9 660.5H305.1M297.9 720.5H305.1M325.5 658.5V717.5M321.9 658.5H329.1M321.9 717.5H329.1M349.5 656.5V710.5M345.9 656.5H353.1M345.9 710.5H353.1M373.5 654.5V709.5M369.9 654.5H377.1M369.9 709.5H377.1M397.5 653.5V706.5M393.9 653.5H401.1M393.9 706.5H401.1M421.5 650.5V701.5M417.9 650.5H425.1M417.9 701.5H425.1M445.5 655.5V701.5M441.9 655.5H449.1M441.9 701.5H449.1M469.5 664.5V699.5M465.9 664.5H473.1M465.9 699.5H473.1M493.5 663.5V698.5M489.9 663.5H497.1M489.9 698.5H497.1M517.5 659.5V686.5M513.9 659.5H521.1M513.9 686.5H521.1" stroke="#b0ffff" stroke-width="1" fill="none"/><path d="M92.18 732.18L104.73 731.17M116.11 730.87L128.63 731.2M139.96 730.45L152.62 728.42M163.7 725.84L176.72 721.83M187.4 717.91L200.84 712.16M211.68 708.86L224.4 706.48M235.52 704.03L248.39 700.75M259.5 698.23L272.24 695.67M283.46 693.64L296.12 691.61M307.41 690.02L320.01 688.51M331.28 686.85L343.97 684.64M355.27 683.28L367.81 682.44M379.18 681.53L391.74 680.36M403.06 678.99L415.7 677.13M427.02 676.76L439.57 677.77M450.88 679.13L463.54 681.16M474.86 681.76L487.39 681.09M498.51 679.04L511.58 674.85" fill="none" stroke="#00ffff" stroke-width="1.6" stroke-linecap="butt"/><polygon points="86.5,729.19 89.95,732.64 86.5,736.09 83.05,732.64" fill="#fff" stroke="#00ffff" stroke-width="1.8" stroke-miterlimit="10"/><polygon points="110.41,727.27 113.86,730.72 110.41,734.17 106.96,730.72" fill="#fff" stroke="#00ffff" stroke-width="1.8" stroke-miterlimit="10"/><polygon points="134.33,727.91 137.78,731.36 134.33,734.81 130.88,731.36" fill="#fff" stroke="#00ffff" stroke-width="1.8" stroke-miterlimit="10"/><polygon points="158.25,724.07 161.7,727.52 158.25,730.97 154.8,727.52" fill="#fff" stroke="#00ffff" stroke-width="1.8" stroke-miterlimit="10"/><polygon points="182.16,716.7 185.61,720.15 182.16,723.6 178.72,720.15" fill="#fff" stroke="#00ffff" stroke-width="1.8" stroke-miterlimit="10"/><polygon points="206.08,706.46 209.53,709.91 206.08,713.36 202.63,709.91" fill="#fff" stroke="#00ffff" stroke-width="1.8" stroke-miterlimit="10"/><polygon points="230,701.98 233.45,705.43 230,708.88 226.55,705.43" fill="#fff" stroke="#00ffff" stroke-width="1.8" stroke-miterlimit="10"/><polygon points="253.92,695.9 257.37,699.35 253.92,702.8 250.47,699.35" fill="#fff" stroke="#00ffff" stroke-width="1.8" stroke-miterlimit="10"/><polygon points="277.83,691.1 281.28,694.55 277.83,698 274.38,694.55" fill="#fff" stroke="#00ffff" stroke-width="1.8" stroke-miterlimit="10"/><polygon points="301.75,687.26 305.2,690.71 301.75,694.16 298.3,690.71" fill="#fff" stroke="#00ffff" stroke-width="1.8" stroke-miterlimit="10"/><polygon points="325.67,684.38 329.12,687.83 325.67,691.28 322.22,687.83" fill="#fff" stroke="#00ffff" stroke-width="1.8" stroke-miterlimit="10"/><polygon points="349.58,680.21 353.03,683.66 349.58,687.11 346.13,683.66" fill="#fff" stroke="#00ffff" stroke-width="1.8" stroke-miterlimit="10"/><polygon points="373.5,678.61 376.95,682.06 373.5,685.51 370.05,682.06" fill="#fff" stroke="#00ffff" stroke-width="1.8" stroke-miterlimit="10"/><polygon points="397.42,676.37 400.87,679.82 397.42,683.27 393.97,679.82" fill="#fff" stroke="#00ffff" stroke-width="1.8" stroke-miterlimit="10"/><polygon points="421.33,672.85 424.78,676.3 421.33,679.75 417.88,676.3" fill="#fff" stroke="#00ffff" stroke-width="1.8" stroke-miterlimit="10"/><polygon points="445.25,674.77 448.7,678.22 445.25,681.67 441.8,678.22" fill="#fff" stroke="#00ffff" stroke-width="1.8" stroke-miterlimit="10"/><polygon points="469.17,678.61 472.62,682.06 469.17,685.51 465.72,682.06" fill="#fff" stroke="#00ffff" stroke-width="1.8" stroke-miterlimit="10"/><polygon points="493.09,677.33 496.54,680.78 493.09,684.23 489.64,680.78" fill="#fff" stroke="#00ffff" stroke-width="1.8" stroke-miterlimit="10"/><polygon points="517,669.65 520.45,673.1 517,676.55 513.55,673.1" fill="#fff" stroke="#00ffff" stroke-width="1.8" stroke-miterlimit="10"/><rect x="234" y="774.8" width="300" height="53.4" fill="#fff"/><path d="M240.9 789.2H257.4M269.9 789.2H286.4" stroke="#000000" stroke-width="1.4"/><rect x="260.4" y="786" width="6.4" height="6.4" fill="#fff" stroke="#000000" stroke-width="2"/><path d="M346.1 789.2H362.6M375.1 789.2H391.6" stroke="#ff0000" stroke-width="1.4"/><circle cx="368.8" cy="789.2" r="3.9" fill="#fff" stroke="#ff0000" stroke-width="2"/><path d="M240.9 813.4H257.4M269.9 813.4H286.4" stroke="#0000ff" stroke-width="1.4"/><polygon points="258.8,816 268.4,816 263.6,808" fill="#fff" stroke="#0000ff" stroke-width="2" stroke-miterlimit="10"/><path d="M346.1 813.4H362.6M375.1 813.4H391.6" stroke="#00ff00" stroke-width="1.4"/><polygon points="364,810.8 373.6,810.8 368.8,818.8" fill="#fff" stroke="#00ff00" stroke-width="2" stroke-miterlimit="10"/><path d="M435.4 813.4H451.9M464.4 813.4H480.9" stroke="#00ffff" stroke-width="1.4"/><polygon points="458.1,808.8 462.7,813.4 458.1,818 453.5,813.4" fill="#fff" stroke="#00ffff" stroke-width="2" stroke-miterlimit="10"/><g font-family="'Liberation Sans', Arial, sans-serif" font-size="20.2" fill="#000"><text x="291.3" y="796.5">Intact</text><text x="396.5" y="796.5">SL dissociation</text><text x="291.3" y="820.7">SWT</text><text x="396.5" y="820.7">3LT</text><text x="485.8" y="820.7">MHT</text></g><g stroke="#000" stroke-width="1.5" fill="none"><line x1="86.5" y1="896.2" x2="86.5" y2="889.2"/><line x1="86.5" y1="512.1" x2="86.5" y2="519.1"/><line x1="134.33" y1="896.2" x2="134.33" y2="889.2"/><line x1="134.33" y1="512.1" x2="134.33" y2="519.1"/><line x1="182.16" y1="896.2" x2="182.16" y2="889.2"/><line x1="182.16" y1="512.1" x2="182.16" y2="519.1"/><line x1="230" y1="896.2" x2="230" y2="889.2"/><line x1="230" y1="512.1" x2="230" y2="519.1"/><line x1="277.83" y1="896.2" x2="277.83" y2="889.2"/><line x1="277.83" y1="512.1" x2="277.83" y2="519.1"/><line x1="325.67" y1="896.2" x2="325.67" y2="889.2"/><line x1="325.67" y1="512.1" x2="325.67" y2="519.1"/><line x1="373.5" y1="896.2" x2="373.5" y2="889.2"/><line x1="373.5" y1="512.1" x2="373.5" y2="519.1"/><line x1="421.33" y1="896.2" x2="421.33" y2="889.2"/><line x1="421.33" y1="512.1" x2="421.33" y2="519.1"/><line x1="469.17" y1="896.2" x2="469.17" y2="889.2"/><line x1="469.17" y1="512.1" x2="469.17" y2="519.1"/><line x1="517" y1="896.2" x2="517" y2="889.2"/><line x1="517" y1="512.1" x2="517" y2="519.1"/><line x1="110.41" y1="896.2" x2="110.41" y2="892.9"/><line x1="110.41" y1="512.1" x2="110.41" y2="515.4"/><line x1="158.25" y1="896.2" x2="158.25" y2="892.9"/><line x1="158.25" y1="512.1" x2="158.25" y2="515.4"/><line x1="206.08" y1="896.2" x2="206.08" y2="892.9"/><line x1="206.08" y1="512.1" x2="206.08" y2="515.4"/><line x1="253.92" y1="896.2" x2="253.92" y2="892.9"/><line x1="253.92" y1="512.1" x2="253.92" y2="515.4"/><line x1="301.75" y1="896.2" x2="301.75" y2="892.9"/><line x1="301.75" y1="512.1" x2="301.75" y2="515.4"/><line x1="349.58" y1="896.2" x2="349.58" y2="892.9"/><line x1="349.58" y1="512.1" x2="349.58" y2="515.4"/><line x1="397.42" y1="896.2" x2="397.42" y2="892.9"/><line x1="397.42" y1="512.1" x2="397.42" y2="515.4"/><line x1="445.25" y1="896.2" x2="445.25" y2="892.9"/><line x1="445.25" y1="512.1" x2="445.25" y2="515.4"/><line x1="493.09" y1="896.2" x2="493.09" y2="892.9"/><line x1="493.09" y1="512.1" x2="493.09" y2="515.4"/><line x1="63" y1="832.18" x2="69.9" y2="832.18"/><line x1="541.35" y1="832.18" x2="533.25" y2="832.18"/><line x1="63" y1="768.17" x2="69.9" y2="768.17"/><line x1="541.35" y1="768.17" x2="533.25" y2="768.17"/><line x1="63" y1="704.15" x2="69.9" y2="704.15"/><line x1="541.35" y1="704.15" x2="533.25" y2="704.15"/><line x1="63" y1="640.13" x2="69.9" y2="640.13"/><line x1="541.35" y1="640.13" x2="533.25" y2="640.13"/><line x1="63" y1="576.12" x2="69.9" y2="576.12"/><line x1="541.35" y1="576.12" x2="533.25" y2="576.12"/><line x1="63" y1="864.19" x2="66.2" y2="864.19"/><line x1="541.35" y1="864.19" x2="537.25" y2="864.19"/><line x1="63" y1="800.18" x2="66.2" y2="800.18"/><line x1="541.35" y1="800.18" x2="537.25" y2="800.18"/><line x1="63" y1="736.16" x2="66.2" y2="736.16"/><line x1="541.35" y1="736.16" x2="537.25" y2="736.16"/><line x1="63" y1="672.14" x2="66.2" y2="672.14"/><line x1="541.35" y1="672.14" x2="537.25" y2="672.14"/><line x1="63" y1="608.12" x2="66.2" y2="608.12"/><line x1="541.35" y1="608.12" x2="537.25" y2="608.12"/><line x1="63" y1="544.11" x2="66.2" y2="544.11"/><line x1="541.35" y1="544.11" x2="537.25" y2="544.11"/><rect x="63" y="512.1" width="478.35" height="384.1" fill="none"/></g><g font-family="'Liberation Sans', Arial, sans-serif" font-size="16" fill="#000"><text x="54.3" y="900.8" text-anchor="end">-60</text><text x="54.3" y="836.78" text-anchor="end">-40</text><text x="54.3" y="772.77" text-anchor="end">-20</text><text x="54.3" y="708.75" text-anchor="end">0</text><text x="54.3" y="644.73" text-anchor="end">20</text><text x="54.3" y="580.72" text-anchor="end">40</text><text x="54.3" y="516.7" text-anchor="end">60</text><text x="86.5" y="918.1" text-anchor="middle">-40</text><text x="134.33" y="918.1" text-anchor="middle">-30</text><text x="182.16" y="918.1" text-anchor="middle">-20</text><text x="230" y="918.1" text-anchor="middle">-10</text><text x="277.83" y="918.1" text-anchor="middle">0</text><text x="325.67" y="918.1" text-anchor="middle">10</text><text x="373.5" y="918.1" text-anchor="middle">20</text><text x="421.33" y="918.1" text-anchor="middle">30</text><text x="469.17" y="918.1" text-anchor="middle">40</text><text x="517" y="918.1" text-anchor="middle">50</text></g><text x="22.6" y="704.15" transform="rotate(-90 22.6 704.15)" text-anchor="middle" font-family="'Liberation Sans', Arial, sans-serif" font-size="20.3">Angle (<tspan class="o">º</tspan>)</text><text x="302.18" y="948.7" text-anchor="middle" font-family="'Liberation Sans', Arial, sans-serif" font-size="20.3">EFA (<tspan class="o">º</tspan>)</text><text class="cap" x="278.7" y="0" transform="translate(0 982.8)" text-anchor="middle" font-family="'Liberation Serif', 'Times New Roman', serif" font-size="21.5">(<tspan font-weight="bold">G</tspan>)</text></svg></body></html>
